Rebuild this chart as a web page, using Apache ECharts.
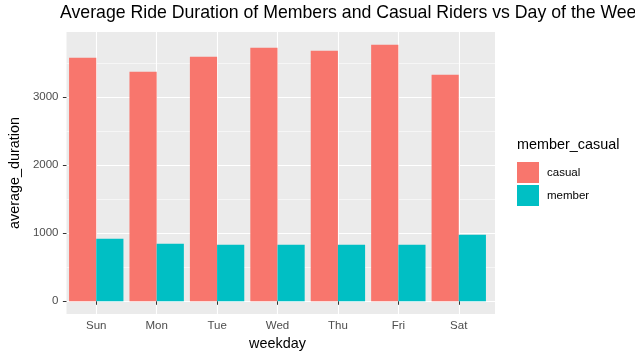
<!DOCTYPE html>
<html>
<head>
<meta charset="utf-8">
<script src="https://cdn.jsdelivr.net/npm/echarts@6/dist/echarts.min.js"></script>
<style>html,body{margin:0;padding:0;background:#fff}#c{width:635px;height:359px}</style>
</head>
<body>
<div id="c"></div>
<script>
var weekdays = ['Sun', 'Mon', 'Tue', 'Wed', 'Thu', 'Fri', 'Sat'];
var casual = [3574, 3369, 3588, 3720, 3676, 3764, 3326];
var member = [916, 843, 828, 828, 828, 828, 974];
var yTicks = [0, 1000, 2000, 3000];
var yMinorTicks = [500, 1500, 2500, 3500];

var dataMax = Math.max.apply(null, casual.concat(member));
var yMin = -0.05 * dataMax, yMax = 1.05 * dataMax;

var FONT = 'Liberation Sans';
var panelLeft = 60, panelWidth = 435, panelTop = 32, panelHeight = 282;
var n = weekdays.length;
var unit = panelWidth / (n - 1 + 1.2);

var chart = echarts.init(document.getElementById('c'), null, {renderer: 'canvas'});
chart.setOption({
  animation: false,
  backgroundColor: '#ffffff',
  textStyle: {fontFamily: FONT},
  title: [
    {text: 'Average Ride Duration of Members and Casual Riders vs Day of the Week',
     left: 60, top: 4, padding: 0,
     textStyle: {fontFamily: FONT, fontSize: 17.7, fontWeight: 'normal', color: '#000'}},
    {text: 'member_casual', left: 517, top: 138, padding: 0,
     textStyle: {fontFamily: FONT, fontSize: 14.4, fontWeight: 'normal', color: '#000'}}
  ],
  legend: {
    orient: 'vertical', left: 517, top: 162, padding: 0,
    itemWidth: 22, itemHeight: 21, itemGap: 2,
    icon: 'rect',
    data: ['casual', 'member'],
    textStyle: {fontFamily: FONT, fontSize: 11.5, color: '#000', padding: [0, 0, 0, 3]}
  },
  grid: [
    {left: panelLeft, top: panelTop, width: panelWidth, height: panelHeight,
     show: true, backgroundColor: '#EBEBEB', borderWidth: 0, containLabel: false},
    {left: panelLeft + 0.6 * unit, top: panelTop, width: (n - 1) * unit, height: panelHeight,
     show: false, containLabel: false}
  ],
  xAxis: [
    {gridIndex: 0, type: 'value', min: 0, max: 1, show: false},
    {gridIndex: 1, type: 'category', data: weekdays, boundaryGap: false,
     axisLine: {show: false},
     axisTick: {show: true, length: 3.6, lineStyle: {color: '#333333', width: 1}},
     axisLabel: {margin: 6, color: '#4D4D4D', fontSize: 11.5, fontFamily: FONT},
     splitLine: {show: true, lineStyle: {color: '#ffffff', width: 1.1}},
     name: 'weekday', nameLocation: 'middle', nameGap: 21.5,
     nameTextStyle: {fontFamily: FONT, fontSize: 14.4, color: '#000'}}
  ],
  yAxis: [
    {gridIndex: 0, type: 'value', min: yMin, max: yMax, position: 'left',
     axisLine: {show: false},
     axisTick: {show: true, length: 3.6, customValues: yTicks, lineStyle: {color: '#333333', width: 1}},
     axisLabel: {customValues: yTicks, margin: 8, color: '#4D4D4D', fontSize: 11.5, fontFamily: FONT,
                 formatter: function (v) { return String(v); }},
     splitLine: {show: true, lineStyle: {color: '#ffffff', width: 1.1}},
     name: 'average_duration', nameLocation: 'middle', nameGap: 39, nameRotate: 90,
     nameTextStyle: {fontFamily: FONT, fontSize: 14.4, color: '#000'}},
    {gridIndex: 0, type: 'value', min: yMin, max: yMax, position: 'left',
     axisLine: {show: false},
     axisTick: {show: false, customValues: yMinorTicks},
     axisLabel: {show: false, customValues: yMinorTicks},
     splitLine: {show: true, lineStyle: {color: '#ffffff', width: 0.55}}},
    {gridIndex: 1, type: 'value', min: yMin, max: yMax, show: false,
     splitLine: {show: false}}
  ],
  series: [
    {name: 'casual', type: 'bar', xAxisIndex: 1, yAxisIndex: 2, data: casual,
     barWidth: '45%', barGap: '0%', clip: false,
     itemStyle: {color: '#F8766D'}},
    {name: 'member', type: 'bar', xAxisIndex: 1, yAxisIndex: 2, data: member,
     barWidth: '45%', barGap: '0%', clip: false,
     itemStyle: {color: '#00BFC4'}}
  ]
});
</script>
</body>
</html>
